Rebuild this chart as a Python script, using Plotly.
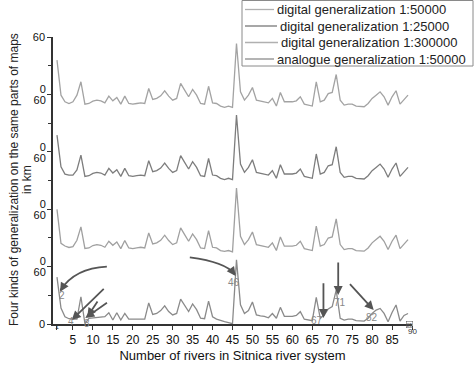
import plotly.graph_objects as go

rivers = list(range(1, 90))

digital_50000 = [49.3, 12.7, 5.8, 4, 5.8, 12.7, 26.7, 3.3, 4, 6.5,
                 7.5, 6.8, 4.7, 11.7, 6.8, 10.3, 3.3, 11.7, 4, 3.3,
                 4, 4.7, 4, 19.7, 8.2, 9.3, 12, 17.3, 11.7, 7.5,
                 9.3, 25, 18, 11, 18.7, 12.7, 4, 3.3, 22, 4.7,
                 4, 1.3, 0, 1.3, 0, 66.7, 16.2, 7.5, 12.7, 20.7,
                 7.5, 6.5, 5.8, 4.7, 9.3, 1.3, 15.5, 5.8, 5.8, 5.8,
                 6.8, 11, 3.3, 2.3, 1.3, 26.7, 5.8, 7.5, 14.4, 15.5,
                 34.3, 7.5, 2.3, 3.3, 3.3, 1.3, 0.6, 0.6, 4, 9.3,
                 12.7, 16.2, 11, 2.3, 11, 17.3, 3.3, 7.5, 12.7]

digital_25000 = [46.5, 13.4, 5.7, 4.7, 4.7, 10, 25.6, 3.3, 4, 6.5,
                 7.5, 6.8, 4.7, 11.7, 6.8, 10.3, 3.3, 11.7, 4, 3.3,
                 4, 4.7, 4, 19.7, 8.2, 9.3, 12, 17.3, 11.7, 7.5,
                 9.3, 25, 18, 11, 18.7, 12.7, 4, 3.3, 22, 4.7,
                 4, 1.3, 0, 1.3, 0, 67.4, 16.2, 7.5, 12.7, 20.7,
                 7.5, 6.5, 5.8, 4.7, 9.3, 1.3, 15.5, 5.8, 5.8, 5.8,
                 6.8, 11, 3.3, 2.3, 1.3, 26.7, 5.8, 7.5, 14.4, 15.5,
                 34.3, 7.5, 2.3, 3.3, 3.3, 1.3, 0.6, 0.6, 4, 9.3,
                 12.7, 16.2, 11, 2.3, 11, 17.3, 3.3, 7.5, 12.7]

digital_300000 = [44.3, 8.8, 6, 4.5, 5.3, 12, 26, 3.5, 4, 6.5,
                  7.5, 6.8, 4.7, 11, 6.8, 10.3, 3.3, 11.7, 4, 3.3,
                  4, 4.7, 4, 19.7, 8.2, 9.3, 12, 17.3, 11.7, 7.5,
                  9.3, 25, 18, 11, 18.7, 12.7, 4, 3.3, 22, 4.7,
                  4, 1.3, 0.5, 1.3, 0, 66.6, 16.2, 7.5, 12.7, 20.7,
                  7.5, 6.5, 5.8, 4.7, 9.3, 1.3, 15.5, 5.8, 5.8, 5.8,
                  6.8, 11, 3.3, 2.3, 1.3, 26.7, 5.8, 7.5, 14.4, 15.5,
                  34.3, 7.5, 2.3, 3.3, 3.3, 1.3, 0.6, 0.6, 4, 9.3,
                  12.7, 16.2, 11, 2.3, 11, 17.3, 3.3, 7.5, 12.7]

analogue_50000 = [49, 16.7, 7.6, 5.5, 5, 5, 28.5, 0.5, 6, 6.6,
                  7, 7.5, 7.6, 11.8, 4.2, 11.8, 4.2, 11, 5, 5,
                  5, 5, 5, 22, 10, 11, 14, 19, 13, 9.5,
                  11, 26, 20, 13, 21, 15, 6, 5.5, 24, 7.6,
                  5.2, 4.2, 2.4, 1.4, 0.3, 67, 20, 11, 14, 23,
                  9.5, 8.5, 8, 6.5, 11, 6, 17.4, 8, 8, 8,
                  9, 12.9, 5, 4, 3.5, 27.8, 6, 9.4, 15.7, 18.1,
                  35.5, 6, 4, 5, 5, 3.5, 3, 3, 6, 11,
                  14.6, 16.3, 11.1, 2.4, 12, 19.9, 3.1, 9, 11]

series_names = ["digital generalization 1:50000",
                "digital generalization 1:25000",
                "digital generalization 1:300000",
                "analogue generalization 1:50000"]
series_values = [digital_50000, digital_25000, digital_300000, analogue_50000]
series_colors = ["#a3a3a3", "#7d7d7d", "#a0a0a0", "#8a8a8a"]
legend_colors = ["#b0b0b0", "#777777", "#b0b0b0", "#8c8c8c"]
stack_offsets = [226.5, 151, 75.5, 0]
axis_ids = ["y4", "y3", "y2", "y"]

x_ticks = [1, 5, 10, 15, 20, 25, 30, 35, 40, 45, 50, 55, 60, 65, 70, 75, 80, 85, 90]
x_ticktext = ["", "5", "10", "15", "20", "25", "30", "35", "40", "45", "50",
              "55", "60", "65", "70", "75", "80", "85", ""]

y_title_lines = ["Four kinds of generalization on the same parts of maps", "in km"]
x_title = "Number of rivers in Sitnica river system"

FONT = "Liberation Sans, Arial, sans-serif"
fig = go.Figure()
for name, vals, col, ax in zip(series_names, series_values, series_colors, axis_ids):
    fig.add_trace(go.Scatter(x=rivers, y=vals, name=name, mode="lines",
                             line=dict(color=col, width=1.3), yaxis=ax, showlegend=False))
# empty helper traces so the label-only overlay axes are drawn
fig.add_trace(go.Scatter(x=[], y=[], yaxis="y5", showlegend=False, hoverinfo="skip"))
fig.add_trace(go.Scatter(x=[], y=[], yaxis="y6", showlegend=False, hoverinfo="skip"))

layout_axes = {}
for off, ax in zip(stack_offsets, axis_ids):
    if ax == "y":
        continue
    key = "yaxis" + ax[1:]
    layout_axes[key] = dict(overlaying="y", anchor="x", range=[-off, 300 - off], visible=False)

fig.update_layout(
    width=474, height=368,
    margin=dict(l=53, r=62, t=37, b=44, autoexpand=False),
    paper_bgcolor="white", plot_bgcolor="white",
    font=dict(family=FONT, size=12, color="#111"),
    showlegend=False,
    xaxis=dict(range=[0, 90], showline=True, linecolor="#333", linewidth=1.5,
               ticks="outside", ticklen=4, tickcolor="#333", tickwidth=1.2,
               tickvals=x_ticks, ticktext=x_ticktext, showgrid=False, zeroline=False,
               tickfont=dict(size=12), automargin=False,
               title=dict(text=x_title, font=dict(size=13), standoff=5)),
    yaxis=dict(range=[0, 300], showline=True, linecolor="#333", linewidth=1.5,
               ticks="outside", ticklen=4, tickcolor="#333", tickwidth=1.2,
               tickvals=[0, 60, 120, 180, 240, 300],
               ticktext=["0", "", "", "", "", "60"],
               minor=dict(dtick=30, tick0=0, ticks="outside", ticklen=3, tickcolor="#333"),
               showgrid=False, zeroline=False, tickfont=dict(size=11), automargin=False),
    yaxis5=dict(overlaying="y", anchor="x", range=[0, 300], side="left", showgrid=False,
                zeroline=False, showline=False, ticks="outside", ticklen=4,
                tickcolor="rgba(0,0,0,0)", automargin=False,
                tickvals=[60, 120, 180, 240], ticktext=["0", "0", "0", "0"],
                ticklabelshift=-5, tickfont=dict(size=11)),
    yaxis6=dict(overlaying="y", anchor="x", range=[0, 300], side="left", showgrid=False,
                zeroline=False, showline=False, ticks="outside", ticklen=4,
                tickcolor="rgba(0,0,0,0)", automargin=False,
                tickvals=[60, 120, 180, 240], ticktext=["60", "60", "60", "60"],
                ticklabelshift=6, tickfont=dict(size=11)),
    **layout_axes,
)

# pixel helpers relative to the plot area
PX0, PW, PY0, PH = 53.0, 359.0, 324.0, 287.0
def px(xp):
    return (xp - PX0) / PW
def py(yp):
    return (PY0 - yp) / PH

# y-axis title as two rotated lines
for txt, xp in zip(y_title_lines, [14, 27]):
    fig.add_annotation(x=px(xp), y=py(180), xref="paper", yref="paper", text=txt,
                       textangle=-90, showarrow=False, xanchor="center", yanchor="middle",
                       font=dict(size=12, color="#222", family=FONT))

arrow_col = "#555"
# curved arrows (paths in data coordinates)
fig.add_shape(type="path", xref="x", yref="y",
              path="M 13.5,60 Q 5.5,58.5 1.9,35.5",
              line=dict(color=arrow_col, width=1.8))
fig.add_shape(type="path", xref="x", yref="y",
              path="M 34.3,69.7 Q 43.3,64.8 45.6,52",
              line=dict(color=arrow_col, width=1.8))

arrows = [
    # (head x, head y, tail x, tail y)
    (1.76, 33.8, 2.9, 41.5),
    (45.8, 50.2, 44.7, 56.5),
    (4.7, 4.2, 13.1, 38.3),
    (8.6, 7.3, 11.4, 25.1),
    (8.1, 6.3, 13.9, 23.3),
    (67.8, 6.3, 67.8, 44.2),
    (71.5, 30.3, 71.5, 65.8),
    (80.4, 14.6, 74.1, 43.2),
]
for hx, hy, tx, ty in arrows:
    fig.add_annotation(x=hx, y=hy, ax=tx, ay=ty, xref="x", yref="y",
                       axref="x", ayref="y", text="", showarrow=True,
                       arrowhead=2, arrowsize=1, arrowwidth=1.8, arrowcolor=arrow_col,
                       standoff=0, startstandoff=0)

labels = [("2", 2.3, 30.0), ("4", 4.5, 2.6), ("8", 8.5, 1.0), ("46", 45.3, 43.5),
          ("67", 66.3, 3.6), ("71", 71.9, 23.0), ("82", 80.0, 7.0)]
for t, lx, ly in labels:
    fig.add_annotation(x=lx, y=ly, xref="x", yref="y", text=t, showarrow=False,
                       font=dict(size=10, color="#888", family=FONT))

# small end labels on x axis
fig.add_annotation(x=1, y=0, xref="x", yref="paper", text="1", showarrow=False,
                   yshift=-8, font=dict(size=7, color="#333", family=FONT))
fig.add_annotation(x=90, y=0, xref="x", yref="paper", text="90", showarrow=False,
                   yshift=-14, font=dict(size=8, color="#333", family=FONT))
fig.add_annotation(x=89.4, y=0, xref="x", yref="paper", text="89", showarrow=False,
                   yshift=-4, font=dict(size=5, color="#555", family=FONT),
                   bordercolor="#555", borderwidth=0.5, borderpad=0)

# legend box (drawn manually to match the compact row spacing)
fig.add_shape(type="rect", xref="paper", yref="paper",
              x0=px(242), x1=px(473), y0=py(66), y1=py(0.5),
              line=dict(color="#8a8a8a", width=1), fillcolor="white", layer="above")
row_y = [9.5, 26.0, 42.5, 59.0]
line_end = [274, 277, 278, 274]
for name, col, ry, le in zip(series_names, legend_colors, row_y, line_end):
    fig.add_shape(type="line", xref="paper", yref="paper",
                  x0=px(245), x1=px(le), y0=py(ry), y1=py(ry),
                  line=dict(color=col, width=1.3), layer="above")
    fig.add_annotation(x=px(le + 1), y=py(ry), xref="paper", yref="paper", text=name,
                       showarrow=False, xanchor="left", yanchor="middle",
                       font=dict(size=13, color="#222", family=FONT))

fig.write_html("out.html", config={"displayModeBar": False},
               post_script="document.body.style.margin='0px';")
